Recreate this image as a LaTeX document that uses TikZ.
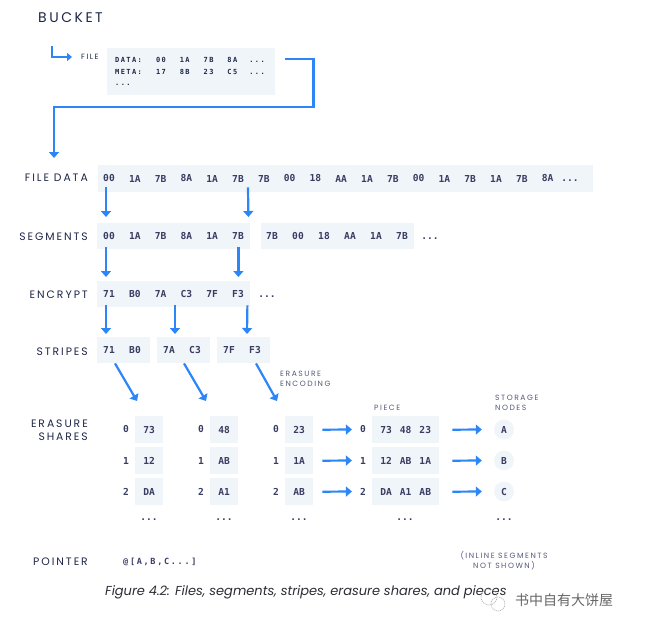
\documentclass[tikz,border=0pt]{standalone}
\usepackage{fontspec}
\setmainfont{Poppins}
\newfontfamily\labelfont[LetterSpace=18]{Poppins}
\newfontfamily\tinyfont[LetterSpace=20]{Poppins}
\newfontfamily\hexfont{DejaVu Sans Mono}
\newfontfamily\hexsmall[LetterSpace=20]{DejaVu Sans Mono}
\newfontfamily\cjkfont{Noto Sans CJK SC}
\usepackage{tikz}
\usetikzlibrary{arrows.meta,positioning,calc}
\definecolor{flowblue}{HTML}{2C86F7}
\definecolor{cellfill}{HTML}{F0F5FA}
\definecolor{inkdark}{HTML}{1E2647}
\definecolor{inkhex}{HTML}{3A3D62}
\definecolor{inkgray}{HTML}{55597A}
\definecolor{capgray}{HTML}{2B2B33}

\begin{document}
\begin{tikzpicture}[
  x=1pt, y=-1pt,
  >={Triangle[length=6pt,width=10pt]},
  rowlabel/.style={font=\labelfont\fontsize{10.8}{13}\selectfont, text=inkdark,
    anchor=east, inner sep=0pt, align=right},
  tinylabel/.style={font=\tinyfont\fontsize{7.6}{10}\selectfont, text=inkgray,
    anchor=west, inner sep=0pt, align=left},
  cellbox/.style={fill=cellfill, inner sep=0pt, anchor=north west},
  hexval/.style={font=\hexfont\bfseries\fontsize{9.6}{11}\selectfont, text=inkhex, inner sep=0pt},
  filetext/.style={font=\hexsmall\bfseries\fontsize{7}{8}\selectfont, text=inkdark, inner sep=0pt},
  flow/.style={->, draw=flowblue, line width=2.2pt},
  storenode/.style={circle, fill=cellfill, minimum size=20pt, inner sep=0pt,
    font=\hexfont\bfseries\fontsize{9.6}{11}\selectfont, text=inkhex}
]
\useasboundingbox (0,0) rectangle (645,629);

% bucket and file
\node[font=\labelfont\fontsize{14}{16}\selectfont, text=inkdark, anchor=west, inner sep=0pt]
  (bucket) at (38,18) {BUCKET};
\node[tinylabel, text=inkdark] (filetag) at (81,57) {FILE};
\coordinate (hook) at (52,46);
\draw[flow, line width=2pt, >={Triangle[length=5pt,width=8pt]}] (hook) |- ([xshift=-9pt]filetag.west);

\node[cellbox, minimum width=168pt, minimum height=47pt] (fb) at (107,48) {};
\node[filetext, anchor=west] (dlab) at (115,60) {DATA:};
\node[filetext, anchor=west] (mlab) at (115,72) {META:};
\node[filetext, anchor=west] (more) at (115,85) {...};
\foreach \v [count=\i from 0] in {00,1A,7B,8A}
  \node[filetext] (dv\i) at (161+23.8*\i,60) {\v};
\node[filetext] (dvmore) at (257,61.5) {...};
\foreach \v [count=\i from 0] in {17,8B,23,C5}
  \node[filetext] (mv\i) at (161+23.8*\i,72) {\v};
\node[filetext] (mvmore) at (257,73.5) {...};

% row labels
\node[rowlabel] (lfd) at (88,178) {FILE DATA};
\node[rowlabel] (lsg) at (88,237) {SEGMENTS};
\node[rowlabel] (len) at (88,295) {ENCRYPT};
\node[rowlabel] (lst) at (88,352) {STRIPES};
\node[rowlabel] (lsh) at (88,430) {ERASURE\\SHARES};
\node[rowlabel] (lpt) at (88,562) {POINTER};

% file data
\node[cellbox, minimum width=495pt, minimum height=27pt] (fd) at (98,165) {};
\foreach \v [count=\i from 0] in {00,1A,7B,8A,1A,7B,7B,00,18,AA,1A,7B,00,1A,7B,1A,7B,8A}
  \node[hexval] (fd\i) at (109+25.8*\i,178.5) {\v};
\node[hexval] (fdmore) at (570,181) {...};

% segments
\node[cellbox, minimum width=153pt, minimum height=26pt] (sg1) at (97,223) {};
\node[cellbox, minimum width=153pt, minimum height=26pt] (sg2) at (261,223) {};
\foreach \v [count=\i from 0] in {00,1A,7B,8A,1A,7B}
  \node[hexval] (sa\i) at (109+25.8*\i,236) {\v};
\foreach \v [count=\i from 0] in {7B,00,18,AA,1A,7B}
  \node[hexval] (sb\i) at (272+26*\i,236) {\v};
\node[hexval] (sgmore) at (430,239) {...};

% encrypt
\node[cellbox, minimum width=153pt, minimum height=26pt] (en) at (97,281) {};
\foreach \v [count=\i from 0] in {71,B0,7A,C3,7F,F3}
  \node[hexval] (ec\i) at (109+25.8*\i,294) {\v};
\node[hexval] (enmore) at (267,297) {...};

% stripes
\foreach \n/\bx/\va/\vb in {1/97/71/B0, 2/157/7A/C3, 3/217/7F/F3} {
  \node[cellbox, minimum width=53pt, minimum height=26pt] (st\n) at (\bx,337) {};
  \node[hexval] (st\n a) at (\bx+12,350) {\va};
  \node[hexval] (st\n b) at (\bx+38,350) {\vb};
}

% arrows down the rows
\draw[flow] ([xshift=8pt,yshift=5pt]fd.south west) -- ([xshift=9pt,yshift=6pt]sg1.north west);
\draw[flow] ([xshift=150pt,yshift=5pt]fd.south west) -- ([xshift=-2pt,yshift=6pt]sg1.north east);
\draw[flow] ([xshift=9pt,yshift=2pt]sg1.south west) -- ([xshift=9pt,yshift=4pt]en.north west);
\draw[flow] ([xshift=-12pt,yshift=2pt]sg1.south east) -- ([xshift=-12pt,yshift=4pt]en.north east);
\draw[flow] ([xshift=9pt,yshift=2pt]en.south west) -- ([xshift=9pt,yshift=3pt]st1.north west);
\draw[flow] ([xshift=78pt,yshift=2pt]en.south west) -- ([xshift=18pt,yshift=3pt]st2.north west);
\draw[flow] ([xshift=-3pt,yshift=2pt]en.south east) -- ([xshift=30pt,yshift=3pt]st3.north west);

% file to file data
\draw[flow] ([xshift=10pt,yshift=-11pt]fb.north east) -- ++(28,0) -- ++(0,48)
  -| ([xshift=-44pt,yshift=7pt]fd.north west);

% erasure encoding
\node[tinylabel] (enc) at (280,379) {ERASURE\\ENCODING};
\coordinate (dt1) at (137,401);
\coordinate (dt2) at (206,401);
\coordinate (dt3) at (277,401);
\draw[flow] ([xshift=18pt]st1.south west) -- (dt1);
\draw[flow] ([xshift=27pt]st2.south west) -- (dt2);
\draw[flow] ([xshift=39pt]st3.south west) -- (dt3);

% erasure shares
\foreach \c/\bx/\va/\vb/\vc in {1/135/73/12/DA, 2/210/48/AB/A1, 3/285/23/1A/AB} {
  \foreach \v [count=\r from 0] in {\va,\vb,\vc} {
    \node[cellbox, minimum width=28pt, minimum height=27pt] (sh\c\r) at (\bx,416+31*\r) {};
    \node[hexval] at (sh\c\r) {\v};
    \node[hexval] (si\c\r) at (\bx-9,429.5+31*\r) {\r};
  }
  \node[hexval] (shmore\c) at (\bx+14,520) {...};
}

% pieces and storage nodes
\node[tinylabel] (piecelbl) at (374,408) {PIECE};
\node[tinylabel] (storelbl) at (495,403) {STORAGE\\NODES};
\foreach \p/\s [count=\r from 0] in {73\hspace{8pt}48\hspace{8pt}23/A, 12\hspace{8pt}AB\hspace{8pt}1A/B, DA\hspace{8pt}A1\hspace{8pt}AB/C} {
  \node[hexval] (pd\r) at (363,429.5+31*\r) {\r};
  \node[cellbox, minimum width=67pt, minimum height=27pt] (pc\r) at (372,416+31*\r) {};
  \node[hexval] at (pc\r) {\p};
  \node[storenode] (sn\r) at (504,429.5+31*\r) {\s};
  \draw[flow] ([xshift=9pt]sh3\r.east) -- ([xshift=-8pt]pd\r.west);
  \draw[flow] ([xshift=13pt]pc\r.east) -- ([xshift=-12pt]sn\r.west);
}
\node[hexval] (pcmore) at (405,520) {...};
\node[hexval] (snmore) at (504,520) {...};

% pointer
\node[font=\hexsmall\bfseries\fontsize{8.5}{10}\selectfont, text=inkhex, anchor=west, inner sep=0pt]
  (ptr) at (123,562) {@[A,B,C...]};
\node[tinylabel, anchor=center, align=center] (inline) at (504,561) {(INLINE SEGMENTS\\NOT SHOWN)};

% caption and mark
\node[font=\itshape\fontsize{13}{14}\selectfont, text=capgray, anchor=west, inner sep=0pt]
  (cap) at (105,592) {Figure 4.2: Files, segments, stripes, erasure shares, and pieces};
\draw[gray!60, line width=0.6pt, dash pattern=on 1.2pt off 0.8pt] (489,597) circle (8);
\draw[gray!60, line width=0.6pt, dash pattern=on 1.2pt off 0.8pt] (498,604) circle (7);
\node[font=\cjkfont\fontsize{14}{16}\selectfont, text=gray!80!black, anchor=west, inner sep=0pt]
  (mark) at (515,600) {书中自有大饼屋};
\end{tikzpicture}
\end{document}
